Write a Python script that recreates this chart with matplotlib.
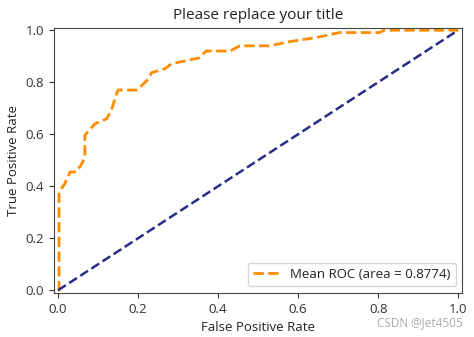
import matplotlib
matplotlib.use("Agg")
import matplotlib.pyplot as plt

plt.rcParams['font.family'] = ['Open Sans', 'DejaVu Sans']

fpr = [0.0, 0.0025, 0.0025, 0.017, 0.03, 0.045, 0.057, 0.067, 0.067, 0.092, 0.122,
       0.135, 0.145, 0.15, 0.197, 0.222, 0.234, 0.267, 0.284, 0.32, 0.354, 0.37,
       0.43, 0.454, 0.529, 0.578, 0.646, 0.703, 0.803, 0.815, 1.0]
tpr = [0.0, 0.0, 0.378, 0.41, 0.455, 0.455, 0.48, 0.51, 0.596, 0.64, 0.66,
       0.70, 0.75, 0.77, 0.77, 0.806, 0.837, 0.852, 0.871, 0.883, 0.894, 0.92,
       0.92, 0.94, 0.94, 0.956, 0.972, 0.991, 0.991, 1.0, 1.0]
diag = [0.0, 1.0]
roc_auc = 0.8774

fig = plt.figure(figsize=(4.74, 3.37), dpi=100)
ax = fig.add_axes([0.114, 0.131, 0.861, 0.787])
ax.plot(fpr, tpr, color='darkorange', lw=2, linestyle='--',
        label='Mean ROC (area = %0.4f)' % roc_auc)
ax.plot(diag, diag, color='#2b2b8a', lw=1.8, linestyle='--')
ax.set_xlim([-0.01, 1.01])
ax.set_ylim([-0.01, 1.01])
for s in ax.spines.values():
    s.set_color('#444444')
ax.tick_params(colors='#333333', labelsize=9.5)
ax.set_xlabel('False Positive Rate', fontsize=9.5, color='#222222')
ax.set_ylabel('True Positive Rate', fontsize=9.5, color='#222222')
ax.set_title('Please replace your title', fontsize=11, color='#222222')
leg = ax.legend(loc='lower right', fontsize=9.5)
for t in leg.get_texts():
    t.set_color('#222222')
fig.text(0.975, 0.025, 'CSDN @Jet4505', color='#aaaaaa', fontsize=8.5, ha='right', va='bottom')
fig.savefig('out.png', dpi=100)
